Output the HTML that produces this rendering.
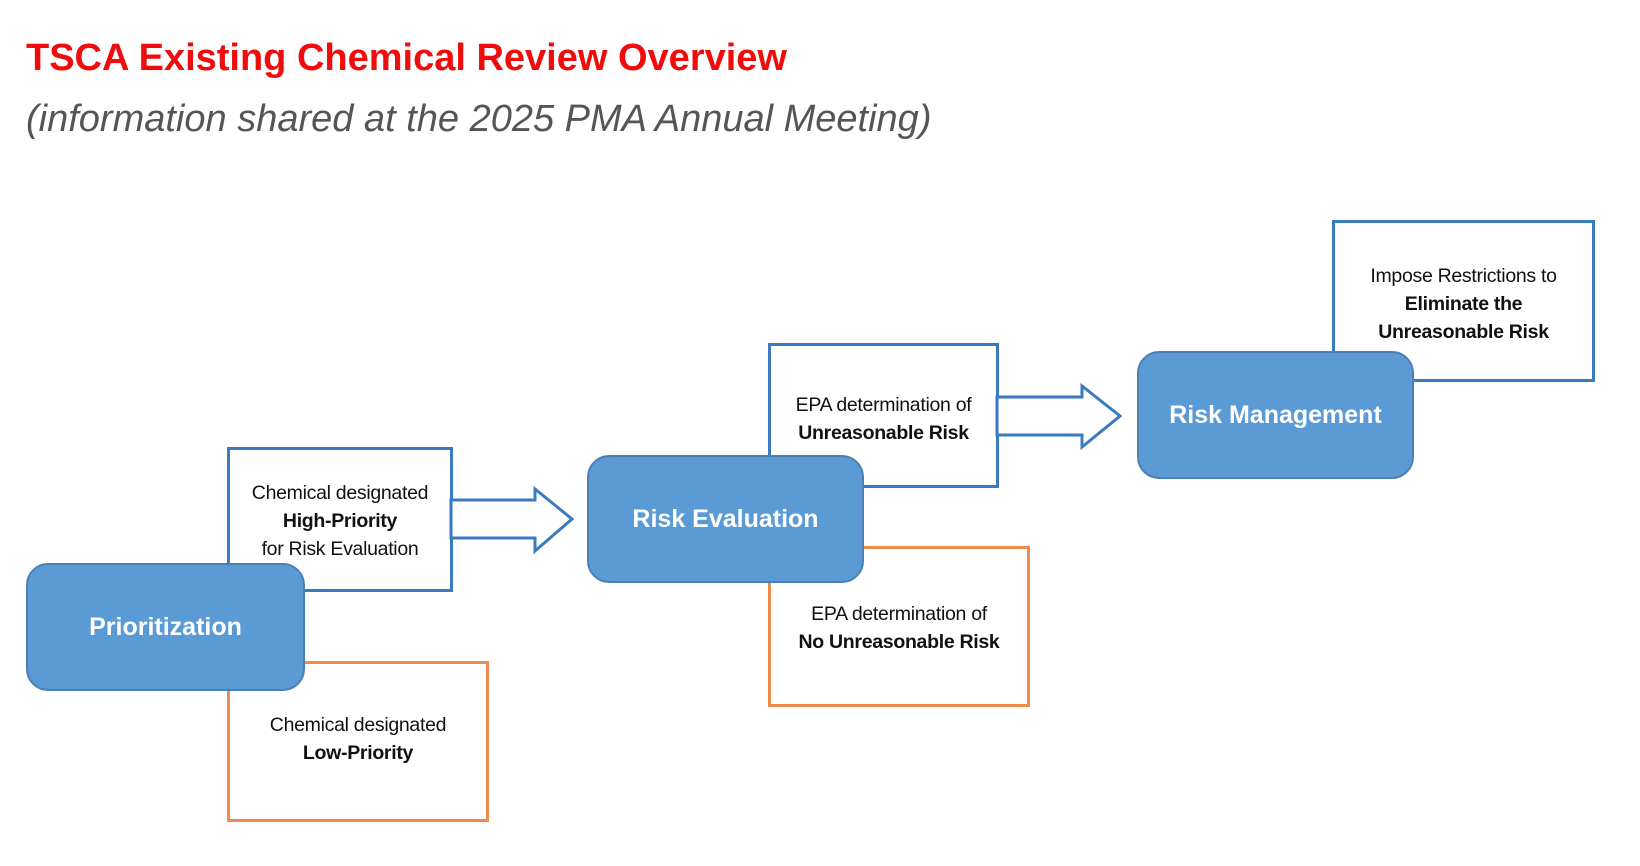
<!DOCTYPE html>
<html><head><meta charset="utf-8"><style>
body{margin:0;width:1640px;height:866px;background:#fff;overflow:hidden;position:relative;font-family:"Liberation Sans",sans-serif}
.t{position:absolute;left:26px;top:37px;font-size:38px;font-weight:bold;color:#f00c0c}
.s{position:absolute;left:26px;top:98px;font-size:38px;font-style:italic;color:#555}
.b{position:absolute;box-sizing:border-box;background:#fff;font-size:19.5px;color:#111;text-align:center;line-height:28px;letter-spacing:-0.3px}
.bl{border:3px solid #3a7bbf}.or{border:3px solid #f08a4b}
.r{position:absolute;box-sizing:border-box;background:#5b9bd5;border:2px solid #4a80b4;border-radius:22px;color:#fff;font-weight:bold;font-size:25px;display:flex;align-items:center;justify-content:center}
svg{position:absolute;left:0;top:0}
</style></head><body>
<div class="t">TSCA Existing Chemical Review Overview</div>
<div class="s">(information shared at the 2025 PMA Annual Meeting)</div>

<div class="b bl" style="left:227px;top:447px;width:226px;height:145px;padding-top:29px">Chemical designated<br><b>High-Priority</b><br>for Risk Evaluation</div>
<div class="b or" style="left:227px;top:661px;width:262px;height:161px;padding-top:47px">Chemical designated<br><b>Low-Priority</b></div>
<div class="b bl" style="left:768px;top:343px;width:231px;height:145px;padding-top:45px">EPA determination of<br><b>Unreasonable Risk</b></div>
<div class="b or" style="left:768px;top:546px;width:262px;height:161px;padding-top:51px">EPA determination of<br><b>No Unreasonable Risk</b></div>
<div class="b bl" style="left:1332px;top:220px;width:263px;height:162px;padding-top:39px">Impose Restrictions to<br><b>Eliminate the<br>Unreasonable Risk</b></div>

<svg width="1640" height="866">
<polygon points="451,500 535,500 535,489 572,519 535,551 535,538 451,538" fill="#fff" stroke="#3a7bbf" stroke-width="3"/>
<polygon points="997,397 1082,397 1082,386 1120,416 1082,447 1082,435 997,435" fill="#fff" stroke="#3a7bbf" stroke-width="3"/>
</svg>

<div class="r" style="left:26px;top:563px;width:279px;height:128px">Prioritization</div>
<div class="r" style="left:587px;top:455px;width:277px;height:128px">Risk Evaluation</div>
<div class="r" style="left:1137px;top:351px;width:277px;height:128px">Risk Management</div>
</body></html>
